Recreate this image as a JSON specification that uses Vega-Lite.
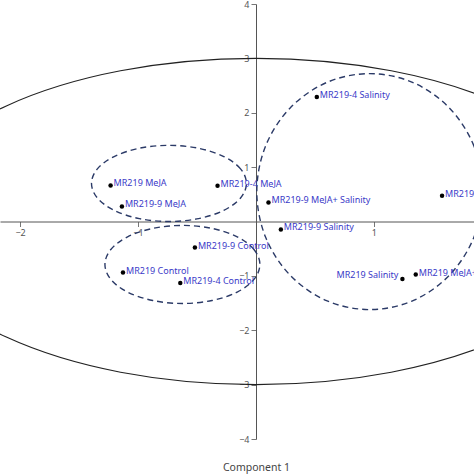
{
  "$schema": "https://vega.github.io/schema/vega-lite/v6.json",
  "width": 474,
  "height": 435,
  "autosize": {"type": "none"},
  "padding": {"top": 4, "left": 0, "right": 0, "bottom": 35},
  "config": {
    "view": {"stroke": null},
    "font": "Noto Sans",
    "axis": {"grid": false, "domainColor": "#555", "tickColor": "#777", "labelColor": "#555", "labelFontSize": 9, "tickSize": 5, "labelFont": "Noto Sans"}
  },
  "datasets": {
    "points": [
      {"name": "MR219-4 Salinity", "x": 0.517, "y": 2.29},
      {"name": "MR219 MeJA", "x": -1.232, "y": 0.663},
      {"name": "MR219-9 MeJA", "x": -1.136, "y": 0.276},
      {"name": "MR219-4 MeJA", "x": -0.325, "y": 0.657},
      {"name": "MR219-9 MeJA+ Salinity", "x": 0.107, "y": 0.35},
      {"name": "MR219-4 MeJA+ Salinity", "x": 1.579, "y": 0.473},
      {"name": "MR219-9 Salinity", "x": 0.212, "y": -0.147},
      {"name": "MR219-9 Control", "x": -0.517, "y": -0.479},
      {"name": "MR219 Control", "x": -1.127, "y": -0.939},
      {"name": "MR219-4 Control", "x": -0.641, "y": -1.129},
      {"name": "MR219 Salinity", "x": 1.243, "y": -1.056},
      {"name": "MR219 MeJA+ Salinity", "x": 1.356, "y": -0.976}
    ],
    "ellipses": [
      {"group": "outer", "i": 0, "x": 3, "y": 0},
      {"group": "outer", "i": 1, "x": 2.772, "y": 1.148},
      {"group": "outer", "i": 2, "x": 2.121, "y": 2.121},
      {"group": "outer", "i": 3, "x": 1.148, "y": 2.772},
      {"group": "outer", "i": 4, "x": 0, "y": 3},
      {"group": "outer", "i": 5, "x": -1.148, "y": 2.772},
      {"group": "outer", "i": 6, "x": -2.121, "y": 2.121},
      {"group": "outer", "i": 7, "x": -2.772, "y": 1.148},
      {"group": "outer", "i": 8, "x": -3, "y": 0},
      {"group": "outer", "i": 9, "x": -2.772, "y": -1.148},
      {"group": "outer", "i": 10, "x": -2.121, "y": -2.121},
      {"group": "outer", "i": 11, "x": -1.148, "y": -2.772},
      {"group": "outer", "i": 12, "x": 0, "y": -3},
      {"group": "outer", "i": 13, "x": 1.148, "y": -2.772},
      {"group": "outer", "i": 14, "x": 2.121, "y": -2.121},
      {"group": "outer", "i": 15, "x": 2.772, "y": -1.148},
      {"group": "MeJA", "i": 0, "x": -0.080, "y": 0.700},
      {"group": "MeJA", "i": 1, "x": -0.130, "y": 0.968},
      {"group": "MeJA", "i": 2, "x": -0.272, "y": 1.195},
      {"group": "MeJA", "i": 3, "x": -0.486, "y": 1.347},
      {"group": "MeJA", "i": 4, "x": -0.737, "y": 1.400},
      {"group": "MeJA", "i": 5, "x": -0.988, "y": 1.347},
      {"group": "MeJA", "i": 6, "x": -1.202, "y": 1.195},
      {"group": "MeJA", "i": 7, "x": -1.344, "y": 0.968},
      {"group": "MeJA", "i": 8, "x": -1.394, "y": 0.700},
      {"group": "MeJA", "i": 9, "x": -1.344, "y": 0.432},
      {"group": "MeJA", "i": 10, "x": -1.202, "y": 0.205},
      {"group": "MeJA", "i": 11, "x": -0.988, "y": 0.053},
      {"group": "MeJA", "i": 12, "x": -0.737, "y": 0.000},
      {"group": "MeJA", "i": 13, "x": -0.486, "y": 0.053},
      {"group": "MeJA", "i": 14, "x": -0.272, "y": 0.205},
      {"group": "MeJA", "i": 15, "x": -0.130, "y": 0.432},
      {"group": "Control", "i": 0, "x": 0.034, "y": -0.790},
      {"group": "Control", "i": 1, "x": -0.016, "y": -0.515},
      {"group": "Control", "i": 2, "x": -0.158, "y": -0.282},
      {"group": "Control", "i": 3, "x": -0.372, "y": -0.127},
      {"group": "Control", "i": 4, "x": -0.623, "y": -0.072},
      {"group": "Control", "i": 5, "x": -0.874, "y": -0.127},
      {"group": "Control", "i": 6, "x": -1.088, "y": -0.282},
      {"group": "Control", "i": 7, "x": -1.230, "y": -0.515},
      {"group": "Control", "i": 8, "x": -1.280, "y": -0.790},
      {"group": "Control", "i": 9, "x": -1.230, "y": -1.065},
      {"group": "Control", "i": 10, "x": -1.088, "y": -1.298},
      {"group": "Control", "i": 11, "x": -0.874, "y": -1.453},
      {"group": "Control", "i": 12, "x": -0.623, "y": -1.508},
      {"group": "Control", "i": 13, "x": -0.372, "y": -1.453},
      {"group": "Control", "i": 14, "x": -0.158, "y": -1.298},
      {"group": "Control", "i": 15, "x": -0.016, "y": -1.065},
      {"group": "Salinity", "i": 0, "x": 1.924, "y": 0.550},
      {"group": "Salinity", "i": 1, "x": 1.851, "y": 1.380},
      {"group": "Salinity", "i": 2, "x": 1.643, "y": 2.084},
      {"group": "Salinity", "i": 3, "x": 1.333, "y": 2.555},
      {"group": "Salinity", "i": 4, "x": 0.966, "y": 2.720},
      {"group": "Salinity", "i": 5, "x": 0.599, "y": 2.555},
      {"group": "Salinity", "i": 6, "x": 0.289, "y": 2.084},
      {"group": "Salinity", "i": 7, "x": 0.081, "y": 1.380},
      {"group": "Salinity", "i": 8, "x": 0.008, "y": 0.550},
      {"group": "Salinity", "i": 9, "x": 0.081, "y": -0.280},
      {"group": "Salinity", "i": 10, "x": 0.289, "y": -0.984},
      {"group": "Salinity", "i": 11, "x": 0.599, "y": -1.455},
      {"group": "Salinity", "i": 12, "x": 0.966, "y": -1.620},
      {"group": "Salinity", "i": 13, "x": 1.333, "y": -1.455},
      {"group": "Salinity", "i": 14, "x": 1.643, "y": -0.984},
      {"group": "Salinity", "i": 15, "x": 1.851, "y": -0.280}
    ]
  },
  "encoding": {
    "x": {
      "field": "x", "type": "quantitative",
      "scale": {"domain": [-2.17, 1.85], "nice": false, "zero": false},
      "axis": {"values": [-2, -1, 1], "offset": -217.5, "labelPadding": 2, "title": "Component 1", "titleX": 256, "titleY": 246, "titleBaseline": "middle", "titleFontSize": 10.5, "titleFontWeight": "normal", "titleColor": "#444", "titleFont": "Noto Sans"}
    },
    "y": {
      "field": "y", "type": "quantitative",
      "scale": {"domain": [-4, 4], "nice": false, "zero": false},
      "axis": {"values": [-4, -3, -2, -1, 1, 2, 3, 4], "offset": -256, "labelPadding": 2, "title": null}
    }
  },
  "layer": [
    {
      "data": {"name": "ellipses"},
      "transform": [{"filter": "datum.group === 'outer'"}],
      "mark": {"type": "line", "interpolate": "cardinal-closed", "clip": true, "color": "#222", "strokeWidth": 1.1},
      "encoding": {"order": {"field": "i", "type": "quantitative"}, "detail": {"field": "group"}}
    },
    {
      "data": {"name": "ellipses"},
      "transform": [{"filter": "datum.group !== 'outer'"}],
      "mark": {"type": "line", "interpolate": "cardinal-closed", "clip": true, "color": "#2b3a67", "strokeWidth": 1.4, "strokeDash": [6, 4]},
      "encoding": {"order": {"field": "i", "type": "quantitative"}, "detail": {"field": "group"}}
    },
    {
      "data": {"name": "points"},
      "mark": {"type": "point", "filled": true, "color": "#000", "size": 20, "opacity": 1, "clip": true}
    },
    {
      "data": {"name": "points"},
      "transform": [{"filter": "datum.name !== 'MR219 Salinity'"}],
      "mark": {"type": "text", "align": "left", "baseline": "middle", "dx": 3, "dy": -2, "fontSize": 9, "font": "Noto Sans", "color": "#3a3ac8", "clip": true},
      "encoding": {"text": {"field": "name"}}
    },
    {
      "data": {"name": "points"},
      "transform": [{"filter": "datum.name === 'MR219 Salinity'"}],
      "mark": {"type": "text", "align": "right", "baseline": "middle", "dx": -4, "dy": -4, "fontSize": 9, "font": "Noto Sans", "color": "#3a3ac8", "clip": true},
      "encoding": {"text": {"field": "name"}}
    }
  ]
}
